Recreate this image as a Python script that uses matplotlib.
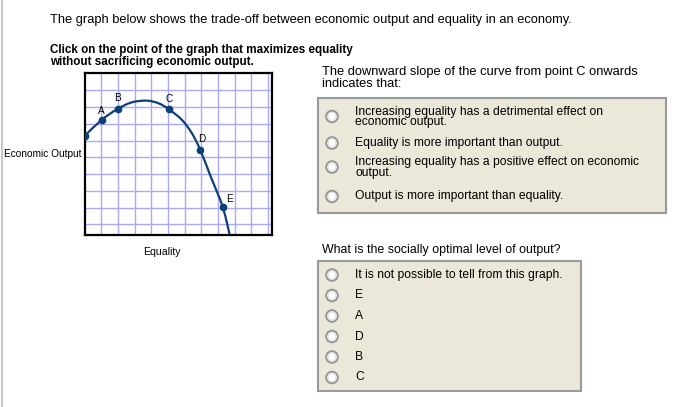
import matplotlib.pyplot as plt
from matplotlib.patches import Rectangle, Circle
from matplotlib.path import Path
from matplotlib.patches import PathPatch

plt.rcParams['font.family'] = ['Liberation Sans', 'DejaVu Sans']

# curve (grid units)
curve_x = [0.0, 1.04, 1.98, 2.84, 3.74, 4.44, 5.04, 5.84, 6.44, 6.94, 7.53, 8.28, 8.72]
curve_y = [6.27, 7.24, 7.88, 8.28, 8.38, 8.22, 7.88, 7.23, 6.43, 5.44, 3.94, 2.05, 0.30]

point_names = ['A', 'B', 'C', 'D', 'E']
point_x = [1.04, 1.98, 5.04, 6.94, 8.28]
point_y = [7.24, 7.88, 7.88, 5.44, 2.05]
label_x = [1.02, 1.98, 5.10, 7.05, 8.68]
label_y = [7.76, 8.55, 8.49, 6.11, 2.53]

intro = "The graph below shows the trade-off between economic output and equality in an economy."
task = ["Click on the point of the graph that maximizes equality",
        "without sacrificing economic output."]
q1 = ["The downward slope of the curve from point C onwards", "indicates that:"]
q1_options = [["Increasing equality has a detrimental effect on", "economic output."],
              ["Equality is more important than output."],
              ["Increasing equality has a positive effect on economic", "output."],
              ["Output is more important than equality."]]
q2 = "What is the socially optimal level of output?"
q2_options = ["It is not possible to tell from this graph.", "E", "A", "D", "B", "C"]

W, H = 679, 407
fig = plt.figure(figsize=(W / 100, H / 100), dpi=100)

# page overlay in pixel coordinates
page = fig.add_axes([0, 0, 1, 1])
page.set_xlim(0, W)
page.set_ylim(H, 0)
page.axis('off')
page.plot([1.5, 1.5], [0, H], color='#c8c8c8', lw=1.5)

page.text(50.5, 19.5, intro, fontsize=9.3, va='center')
page.text(50, 50.5, task[0], fontsize=8.4, fontweight='bold', va='center')
page.text(50, 62, task[1], fontsize=8.4, fontweight='bold', va='center')

page.text(321.5, 72.5, q1[0], fontsize=9.3, va='center')
page.text(321.5, 84, q1[1], fontsize=9.3, va='center')


def radio(y):
    page.add_patch(Circle((332, y), 5.8, facecolor='white', edgecolor='#969696', lw=1.4))
    page.add_patch(Circle((332, y), 3.9, facecolor='none', edgecolor='#e2e2e2', lw=0.8))


box_bg = '#ebe8d9'
box_edge = '#9a9a9a'
page.add_patch(Rectangle((317.5, 97.5), 348.5, 115.5, facecolor=box_bg, edgecolor=box_edge, lw=1.5))
opt_y = [116.5, 143, 167, 196.5]
for y, lines in zip(opt_y, q1_options):
    radio(y)
    if len(lines) == 2:
        page.text(355, y - 5, lines[0], fontsize=8.7, va='center')
        page.text(355, y + 6, lines[1], fontsize=8.7, va='center')
    else:
        page.text(355, y, lines[0], fontsize=8.7, va='center')

page.text(322.5, 250, q2, fontsize=8.9, va='center')
page.add_patch(Rectangle((317.5, 260.5), 263.5, 130.5, facecolor=box_bg, edgecolor=box_edge, lw=1.5))
opt2_y = [275, 295.5, 316, 336.5, 357, 377.5]
for y, txt in zip(opt2_y, q2_options):
    radio(y)
    page.text(355, y, txt, fontsize=8.7, va='center')

# the graph
x0, y0, x1, y1 = 84.5, 73, 272, 235
ax = fig.add_axes([x0 / W, 1 - y1 / H, (x1 - x0) / W, (y1 - y0) / H])
ax.set_xlim(0, 11.24)
ax.set_ylim(0.36, 10.03)
for gx in range(1, 12):
    ax.axvline(gx, color='#a9a9f5', lw=1, zorder=0.5)
for gy in range(1, 10):
    ax.axhline(gy, color='#a9a9f5', lw=1, zorder=0.5)

# smooth curve through the read points (Catmull-Rom as cubic Bezier)
pts = list(zip(curve_x, curve_y))
verts = [pts[0]]
codes = [Path.MOVETO]
for i in range(len(pts) - 1):
    p0 = pts[i - 1] if i > 0 else pts[i]
    p1, p2 = pts[i], pts[i + 1]
    p3 = pts[i + 2] if i + 2 < len(pts) else pts[i + 1]
    c1 = (p1[0] + (p2[0] - p0[0]) / 6, p1[1] + (p2[1] - p0[1]) / 6)
    c2 = (p2[0] - (p3[0] - p1[0]) / 6, p2[1] - (p3[1] - p1[1]) / 6)
    verts += [c1, c2, p2]
    codes += [Path.CURVE4] * 3
ax.add_patch(PathPatch(Path(verts, codes), facecolor='none', edgecolor='#0d3f78', lw=1.6, zorder=2))

ax.plot([curve_x[0]], [curve_y[0]], 'o', color='#0d3f78', ms=4.5, zorder=3)
ax.plot(point_x, point_y, 'o', color='#0d3f78', ms=4.5, ls='none', zorder=3)
for name, lx, ly in zip(point_names, label_x, label_y):
    ax.text(lx, ly, name, fontsize=7.2, ha='center', va='center')

ax.set_xticks([])
ax.set_yticks([])
for s in ax.spines.values():
    s.set_linewidth(1.6)
    s.set_color('black')

page.text(4.5, 154, "Economic Output", fontsize=7.3, va='center')
page.text(162, 252, "Equality", fontsize=7.6, va='center', ha='center')

fig.savefig('out.png', dpi=100)
